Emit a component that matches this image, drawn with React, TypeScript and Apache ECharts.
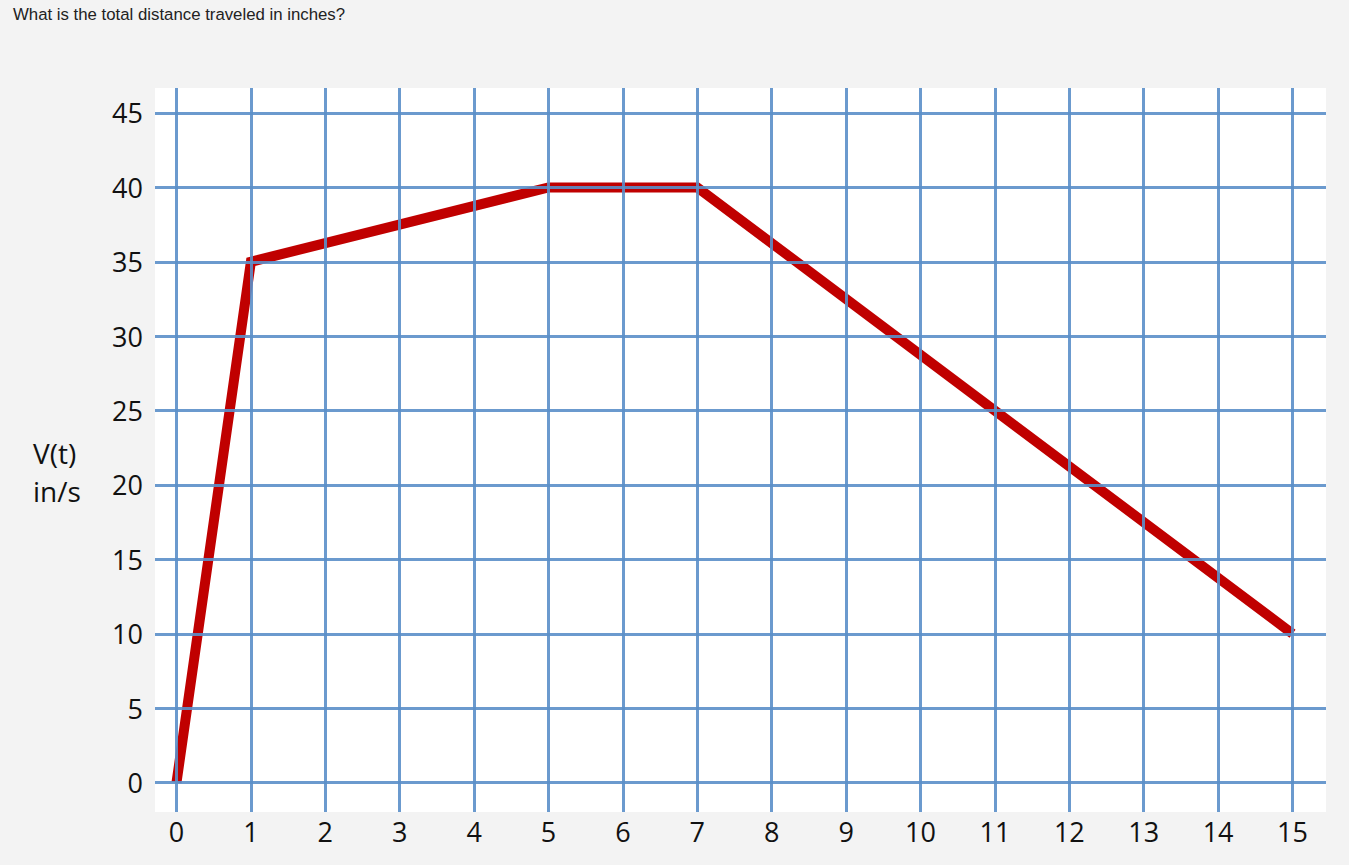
import React, { useEffect, useRef } from "react";
import * as echarts from "echarts";

const titleText = "What is the total distance traveled in inches?";
const xTicks = [0, 1, 2, 3, 4, 5, 6, 7, 8, 9, 10, 11, 12, 13, 14, 15];
const yTicks = [0, 5, 10, 15, 20, 25, 30, 35, 40, 45];
const timeValues = [0, 1, 5, 7, 15];
const velocityValues = [0, 35, 40, 40, 10];
const yAxisNameLine1 = "V(t)";
const yAxisNameLine2 = "in/s";

export default function App() {
  const ref = useRef<HTMLDivElement>(null);
  useEffect(() => {
    if (!ref.current) return;
    const chart = echarts.init(ref.current, undefined, { renderer: "svg" });
    const gridColor = "#5b8fc9";
    const labelFont = "'Open Sans', 'Noto Sans', sans-serif";
    chart.setOption({
      animation: false,
      backgroundColor: "#f3f3f3",
      title: {
        text: titleText,
        left: 13,
        top: 6,
        padding: 0,
        textStyle: {
          fontSize: 16.8,
          fontWeight: "normal",
          fontFamily: "'Liberation Sans', Arial, sans-serif",
          color: "#222",
        },
      },
      graphic: [
        {
          type: "text",
          left: 33,
          top: 434,
          style: {
            text: yAxisNameLine1,
            fontSize: 28,
            lineHeight: 38,
            fontFamily: labelFont,
            fill: "#111",
          },
        },
        {
          type: "text",
          left: 33,
          top: 472,
          style: {
            text: yAxisNameLine2,
            fontSize: 28,
            lineHeight: 38,
            fontFamily: labelFont,
            fill: "#111",
          },
        },
      ],
      grid: {
        left: 155,
        top: 88,
        width: 1171,
        height: 724,
        show: true,
        backgroundColor: "#ffffff",
        borderWidth: 0,
      },
      xAxis: {
        type: "value",
        min: -0.289,
        max: 15.45,
        axisLine: { show: false },
        axisTick: { show: false },
        splitLine: { show: false },
        axisLabel: {
          customValues: xTicks,
          margin: 6,
          fontSize: 27,
          fontFamily: labelFont,
          color: "#111",
        },
      },
      yAxis: {
        type: "value",
        min: -1.98,
        max: 46.68,
        axisLine: { show: false },
        axisTick: { show: false },
        splitLine: { show: false },
        axisLabel: {
          customValues: yTicks,
          margin: 12,
          fontSize: 27,
          fontFamily: labelFont,
          color: "#111",
        },
      },
      series: [
        {
          type: "line",
          data: [],
          z: 1,
          silent: true,
          markLine: {
            silent: true,
            symbol: ["none", "none"],
            label: { show: false },
            lineStyle: { color: gridColor, width: 3, type: "solid", opacity: 0.9 },
            emphasis: { disabled: true },
            data: [
              ...xTicks.map((v) => ({ xAxis: v })),
              ...yTicks.map((v) => ({ yAxis: v })),
            ],
          },
        },
        {
          type: "line",
          z: 3,
          symbol: "none",
          silent: true,
          data: timeValues.map((t, i) => [t, velocityValues[i]]),
          lineStyle: { color: "#c00000", width: 10, cap: "butt", join: "miter" },
        },
      ],
    });
    return () => chart.dispose();
  }, []);
  return (
    <div
      ref={ref}
      style={{ position: "absolute", left: 0, top: 0, width: 1349, height: 865 }}
    />
  );
}
